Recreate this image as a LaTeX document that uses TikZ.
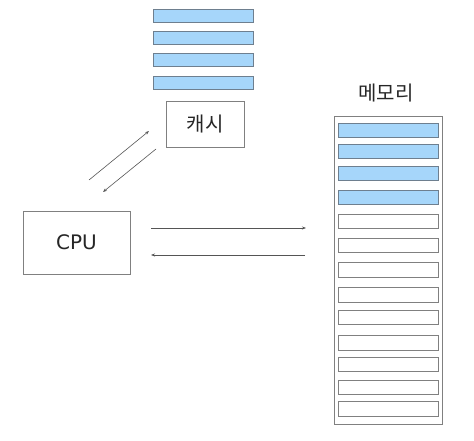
\documentclass[tikz,border=0pt]{standalone}
\usepackage{fontspec}
\newfontfamily\kr{Noto Sans CJK KR}
\newfontfamily\dv{DejaVu Sans}
\usetikzlibrary{arrows.meta}
\definecolor{bluefill}{HTML}{A6D6FA}
\definecolor{blueedge}{HTML}{6E7F8F}
\definecolor{boxedge}{HTML}{808080}
\definecolor{arrowc}{HTML}{555555}
\tikzset{
  box/.style={draw=boxedge, line width=0.9pt, fill=white},
  bluebar/.style={draw=blueedge, line width=0.9pt, fill=bluefill},
  whitebar/.style={draw=boxedge, line width=0.9pt, fill=white},
  conn/.style={draw=arrowc, line width=0.6pt, -{Stealth[length=4pt,width=3pt]}},
  lbl/.style={inner sep=0pt, text=black!85}
}
\begin{document}
\begin{tikzpicture}[x=1pt,y=-1pt]
\useasboundingbox (0,0) rectangle (474,441);
% cache lines
\foreach \a/\b in {9/22, 31/44, 53/66, 76/89}
  \draw[bluebar] (153,\a) rectangle (253,\b);
% cache box
\draw[box] (166,101) rectangle (244,147);
\node[lbl, font=\kr\fontsize{20}{24}\selectfont] (cache) at (205,124) {캐시};
\coordinate (cacheBox) at (205,124);
% CPU
\draw[box] (23,211) rectangle (130,274);
\node[lbl, font=\dv\fontsize{20}{24}\selectfont] (cpu) at (76.5,242) {CPU};
% memory
\node[lbl, font=\kr\fontsize{20}{24}\selectfont] (memlabel) at (386,93) {메모리};
\draw[box] (334,116) rectangle (442,424);
\foreach \a/\b in {123/137, 144/158, 166/180, 190/204}
  \draw[bluebar] (338,\a) rectangle (438,\b);
\foreach \a/\b in {214/228, 238/252, 262/277, 287/302, 310/324, 335/350, 357/371, 380/394, 401/416}
  \draw[whitebar] (338,\a) rectangle (438,\b);
% connectors
\coordinate (a1s) at (89,180);
\coordinate (a1e) at (149,131);
\coordinate (a2s) at (156,149);
\coordinate (a2e) at (103,192);
\coordinate (a3s) at (151,228);
\coordinate (a3e) at (306,228);
\coordinate (a4s) at (305,255);
\coordinate (a4e) at (151,255);
\draw[conn] (a1s) -- (a1e);
\draw[conn] (a2s) -- (a2e);
\draw[conn] (a3s) -- (a3e);
\draw[conn] (a4s) -- (a4e);
\end{tikzpicture}
\end{document}
